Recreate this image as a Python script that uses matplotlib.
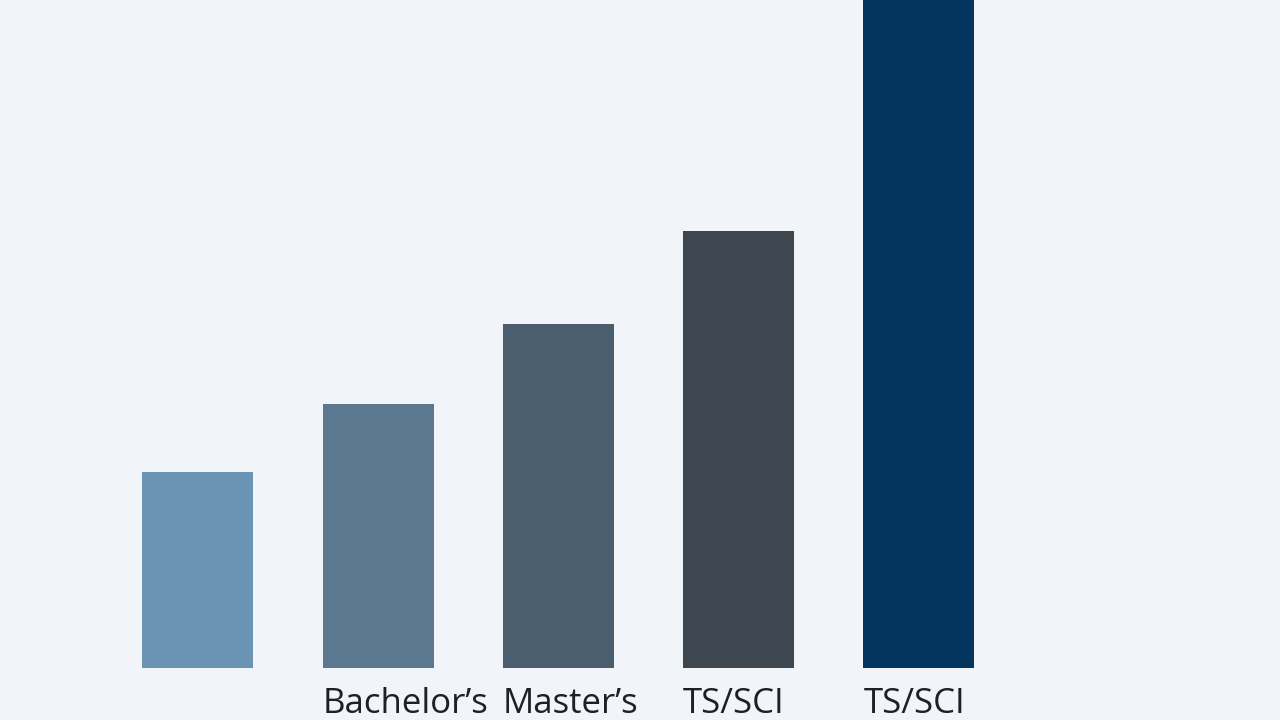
import matplotlib
matplotlib.use("Agg")
import matplotlib.pyplot as plt
import matplotlib.transforms as mtransforms

# Data (last bar runs past the top edge)
categories = ["", "Bachelor\u2019s", "Master\u2019s", "TS/SCI", "TS/SCI"]
values = [44.0, 59.3, 77.2, 98.1, 160.0]
colors = ["#6a93b4", "#5a788f", "#4b5e6d", "#3e474f", "#03355f"]

bg = "#f1f5f9"

fig = plt.figure(figsize=(12.8, 7.2), dpi=100, facecolor=bg)
ax = fig.add_axes([0, 52 / 720, 1, 668 / 720])
ax.set_facecolor(bg)

x = list(range(len(values)))
width = 0.616
ax.bar(x, values, width=width, color=colors, clip_on=True)

ax.set_xlim(-1.098, 6.003)
ax.set_ylim(0, 150)
ax.axis("off")

# Category labels sit under the bars, aligned to the left edge
trans = mtransforms.blended_transform_factory(ax.transData, ax.transAxes)
for xi, label in zip(x, categories):
    ax.text(xi - width / 2, -0.029, label, transform=trans,
            ha="left", va="top", fontsize=25, color="#1d2127",
            family="Open Sans", clip_on=False)

fig.savefig("out.png", dpi=100, facecolor=bg)
